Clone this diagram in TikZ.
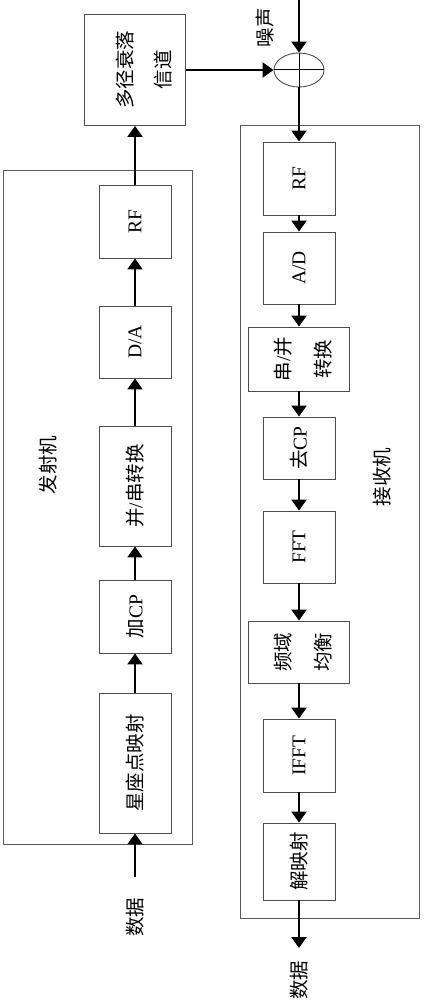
\documentclass[tikz,border=0pt]{standalone}
\usepackage{fontspec}
\setmainfont{Liberation Serif}
\newfontfamily\cjk{Noto Sans CJK SC}
\usetikzlibrary{arrows.meta,shapes.geometric}
\begin{document}
\begin{tikzpicture}[x=1pt,y=-1pt,
  box/.style={draw=black!70,line width=0.9pt,inner sep=0pt,font=\fontsize{19.5}{40}\selectfont},
  sbox/.style={box,minimum width=72pt},
  wbox/.style={box,minimum width=101pt},
  outer/.style={draw=black!65,line width=0.9pt},
  arr/.style={line width=2.2pt,-{Triangle[length=11pt,width=15pt]}},
  lbl/.style={inner sep=0pt,font=\fontsize{19.5}{24}\selectfont}]
\useasboundingbox (0,0) rectangle (423,1000);

% outer frames
\draw[outer] (3,170) rectangle (192,844);
\draw[outer] (240,125) rectangle (419,918);

% transmitter
\node[sbox,minimum height=140pt] (tMap) at (135,763) {\rotatebox{90}{\cjk 星座点映射}};
\node[sbox,minimum height=73pt] (tCP) at (135,616.5) {\rotatebox{90}{{\cjk 加}CP}};
\node[sbox,minimum height=120pt] (tPS) at (135,486) {\rotatebox{90}{{\cjk 并}/{\cjk 串转换}}};
\node[sbox,minimum height=72pt] (tDA) at (135,342) {\rotatebox{90}{D/A}};
\node[sbox,minimum height=73pt] (tRF) at (135,221.5) {\rotatebox{90}{RF}};
\node[lbl] (tx) at (48,465) {\rotatebox{90}{\cjk 发射机}};
\node[lbl] (din) at (135,917) {\rotatebox{90}{\cjk 数据}};
\coordinate (dinS) at (135,877);

% channel
\node[wbox,minimum height=111pt] (chan) at (135,70) {\rotatebox{90}{\begin{tabular}{@{}c@{}}{\cjk 多径衰落}\\[-2pt]{\cjk 信道}\end{tabular}}\hspace*{-16pt}};
\node[draw=black!70,line width=0.9pt,ellipse,minimum width=50pt,minimum height=34pt,inner sep=0pt] (sum) at (299,70) {};
\draw[line width=1pt] (sum.west) -- (sum.east);
\draw[line width=1pt] (sum.north) -- (sum.south);
\coordinate (nz) at (299,0);
\node[lbl] (noise) at (265,28) {\rotatebox{90}{\cjk 噪声}};

% receiver
\node[sbox,minimum height=73pt] (rRF) at (299,178.5) {\rotatebox{90}{RF}};
\node[sbox,minimum height=72pt] (rAD) at (299,268) {\rotatebox{90}{A/D}};
\node[wbox,minimum height=64pt] (rSP) at (299,359) {\rotatebox{90}{\begin{tabular}{@{}c@{}}{\cjk 串}/{\cjk 并}\\{\cjk 转换}\end{tabular}}\hspace*{-6pt}};
\node[sbox,minimum height=62pt] (rCP) at (299,448) {\rotatebox{90}{{\cjk 去}CP}};
\node[sbox,minimum height=72pt] (rFFT) at (299,547) {\rotatebox{90}{FFT}};
\node[wbox,minimum height=62pt] (rEq) at (299,652) {\rotatebox{90}{\begin{tabular}{@{}c@{}}{\cjk 频域}\\{\cjk 均衡}\end{tabular}}\hspace*{-6pt}};
\node[sbox,minimum height=73pt] (rIFFT) at (299,755.5) {\rotatebox{90}{IFFT}};
\node[sbox,minimum height=77pt] (rDe) at (299,861.5) {\rotatebox{90}{\cjk 解映射}};
\node[lbl] (rx) at (382,477) {\rotatebox{90}{\cjk 接收机}};
\coordinate (doutE) at (299,948);
\node[lbl] (dout) at (299,980) {\rotatebox{90}{\cjk 数据}};

% arrows
\draw[arr] (dinS) -- (tMap);
\draw[arr] (tMap) -- (tCP);
\draw[arr] (tCP) -- (tPS);
\draw[arr] (tPS) -- (tDA);
\draw[arr] (tDA) -- (tRF);
\draw[arr] (tRF) -- (chan);
\draw[arr] (chan) -- (sum);
\draw[arr] (nz) -- (sum.north);
\draw[arr] (sum.south) -- (rRF);
\draw[arr] (rRF) -- (rAD);
\draw[arr] (rAD) -- (rSP);
\draw[arr] (rSP) -- (rCP);
\draw[arr] (rCP) -- (rFFT);
\draw[arr] (rFFT) -- (rEq);
\draw[arr] (rEq) -- (rIFFT);
\draw[arr] (rIFFT) -- (rDe);
\draw[arr] (rDe) -- (doutE);
\end{tikzpicture}
\end{document}
